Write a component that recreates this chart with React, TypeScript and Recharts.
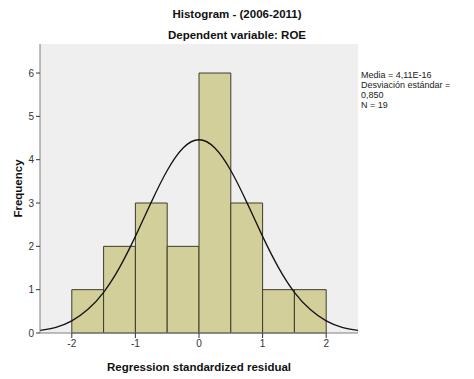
import React from "react"
import {
  ComposedChart,
  Line,
  XAxis,
  YAxis,
  ReferenceArea,
  CartesianGrid,
} from "recharts"

// histogram bins (width 0.5)
const binStart = [-2, -1.5, -1, -0.5, 0, 0.5, 1, 1.5]
const binEnd = [-1.5, -1, -0.5, 0, 0.5, 1, 1.5, 2]
const frequency = [1, 2, 3, 2, 6, 3, 1, 1]

// normal curve
const curveX = [-2.5, -2.25, -2, -1.75, -1.5, -1.25, -1, -0.75, -0.5, -0.25, 0, 0.25, 0.5, 0.75, 1, 1.25, 1.5, 1.75, 2, 2.25, 2.5]
const curveY = [0.06, 0.13, 0.28, 0.54, 0.94, 1.51, 2.23, 3.02, 3.75, 4.27, 4.46, 4.27, 3.75, 3.02, 2.23, 1.51, 0.94, 0.54, 0.28, 0.13, 0.06]

const xTicks = [-2, -1, 0, 1, 2]
const yTicks = [0, 1, 2, 3, 4, 5, 6]

const statsLines = ["Media = 4,11E-16", "Desviación estándar =", "0,850", "N = 19"]

const curveData = curveX.map((x, i) => ({ x, y: curveY[i] }))

const font = "Arial, 'Liberation Sans', sans-serif"
const frame = "#7f7f7f"

export default function App() {
  return (
    <div style={{ position: "absolute", left: 0, top: 0, width: 474, height: 379, background: "#fff", fontFamily: font }}>
      <div style={{ position: "absolute", top: 8, width: 474, textAlign: "center", fontWeight: "bold", fontSize: 11.5, color: "#111" }}>
        Histogram - (2006-2011)
      </div>
      <div style={{ position: "absolute", top: 29, width: 474, textAlign: "center", fontWeight: "bold", fontSize: 11.5, color: "#111" }}>
        Dependent variable: ROE
      </div>
      <div style={{ position: "absolute", left: 361, top: 70, fontSize: 9, lineHeight: "10px", color: "#222" }}>
        {statsLines.map((s) => (
          <div key={s}>{s}</div>
        ))}
      </div>
      <ComposedChart
        width={474}
        height={379}
        data={curveData}
        margin={{ top: 44, right: 116, bottom: 0, left: 10 }}
      >
        <CartesianGrid horizontal={false} vertical={false} fill="#efefef" />
        <XAxis
          xAxisId="top"
          orientation="top"
          dataKey="x"
          type="number"
          domain={[-2.5, 2.5]}
          height={0}
          tick={false}
          tickLine={false}
          axisLine={{ stroke: frame }}
        />
        <YAxis
          yAxisId="right"
          orientation="right"
          domain={[0, 6.67]}
          width={0}
          tick={false}
          tickLine={false}
          axisLine={{ stroke: frame }}
        />
        <XAxis
          dataKey="x"
          type="number"
          domain={[-2.5, 2.5]}
          ticks={xTicks}
          allowDataOverflow
          height={46}
          tickSize={5}
          tick={{ fontSize: 10, fill: "#333", fontFamily: font }}
          tickLine={{ stroke: "#333" }}
          axisLine={{ stroke: frame }}
          label={{ value: "Regression standardized residual", position: "insideBottom", offset: 8, style: { fontWeight: "bold", fontSize: 11.5, fill: "#111", fontFamily: font } }}
        />
        <YAxis
          type="number"
          domain={[0, 6.67]}
          ticks={yTicks}
          allowDataOverflow
          width={30}
          tickSize={4}
          tick={{ fontSize: 10, fill: "#333", fontFamily: font }}
          tickLine={{ stroke: "#333" }}
          axisLine={{ stroke: frame }}
          label={{ value: "Frequency", angle: -90, position: "insideLeft", offset: 8, style: { textAnchor: "middle", fontWeight: "bold", fontSize: 11.5, fill: "#111", fontFamily: font } }}
        />
        {frequency.map((f, i) => (
          <ReferenceArea
            key={i}
            x1={binStart[i]}
            x2={binEnd[i]}
            y1={0}
            y2={f}
            fill="#d3cf9b"
            fillOpacity={1}
            stroke="#3d3c2a"
            strokeWidth={1}
          />
        ))}
        <Line
          dataKey="y"
          type="natural"
          stroke="#111"
          strokeWidth={1.3}
          dot={false}
          isAnimationActive={false}
        />
      </ComposedChart>
    </div>
  )
}
